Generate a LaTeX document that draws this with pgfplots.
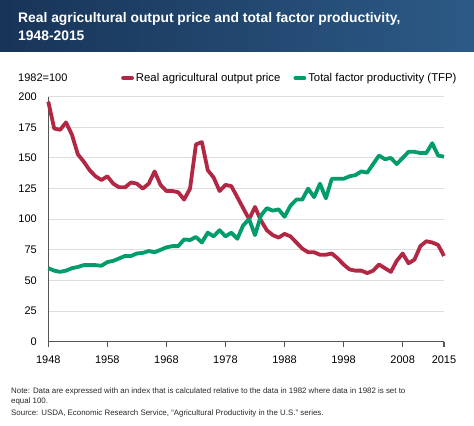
\documentclass[border=0pt]{standalone}
\usepackage{pgfplots}
\pgfplotsset{compat=1.18}
\usepackage{pgfplotstable}
\usepackage{fontspec}
\setmainfont{Liberation Sans}
\definecolor{pricered}{RGB}{178,40,68}
\definecolor{tfpgreen}{RGB}{0,156,108}
\definecolor{bannerL}{RGB}{24,52,88}
\definecolor{bannerR}{RGB}{44,90,134}
\definecolor{gridgray}{RGB}{222,222,222}
\definecolor{axisgray}{RGB}{85,85,85}
\definecolor{notegray}{RGB}{40,40,40}

\pgfplotstableread{
year value
1948 196
1949 174
1950 173
1951 179
1952 169
1953 153
1954 147
1955 140
1956 135
1957 132
1958 135
1959 129
1960 126
1961 126
1962 130
1963 129
1964 125
1965 129
1966 139
1967 128
1968 123
1969 123
1970 122
1971 116
1972 125
1973 161
1974 163
1975 140
1976 134
1977 123
1978 128
1979 127
1980 118
1981 109
1982 100
1983 110
1984 99
1985 91
1986 87
1987 85
1988 88
1989 86
1990 81
1991 76
1992 73
1993 73
1994 71
1995 71
1996 72
1997 68
1998 63
1999 59
2000 58
2001 58
2002 56
2003 58
2004 63
2005 60
2006 57
2007 66
2008 72
2009 64
2010 67
2011 78
2012 82
2013 81
2014 79
2015 70
}\pricetable

\pgfplotstableread{
year value
1948 60
1949 58
1950 57
1951 58
1952 60
1953 61
1954 62.5
1955 62.5
1956 62.5
1957 62
1958 65
1959 66
1960 68
1961 70
1962 70
1963 72
1964 72.5
1965 74
1966 73
1967 75
1968 77
1969 78
1970 78
1971 83.5
1972 83
1973 85.5
1974 81
1975 89
1976 86
1977 91
1978 86
1979 89
1980 84
1981 95
1982 100
1983 87
1984 103
1985 109
1986 107
1987 108
1988 102
1989 111
1990 116
1991 116
1992 125
1993 118
1994 129
1995 117
1996 133
1997 133
1998 133
1999 135
2000 136
2001 139
2002 138
2003 145
2004 152
2005 149
2006 150
2007 145
2008 150
2009 155
2010 155
2011 154
2012 154
2013 162
2014 152
2015 151
}\tfptable

\begin{document}
\begin{tikzpicture}
\path[use as bounding box] (0,0) rectangle (474bp,426bp);
% banner
\shade[left color=bannerL, right color=bannerR] (0,374bp) rectangle (474bp,426bp);
\node[anchor=base west, inner sep=0pt, text=white, font=\fontsize{13.85bp}{16bp}\selectfont\bfseries] at (18bp,403.5bp) {Real agricultural output price and total factor productivity,};
\node[anchor=base west, inner sep=0pt, text=white, font=\fontsize{13.85bp}{16bp}\selectfont\bfseries] at (18bp,385.5bp) {1948-2015};
% unit label
\node[anchor=west, inner sep=0pt, font=\fontsize{11bp}{13bp}\selectfont] at (18bp,348bp) {1982=100};
\begin{axis}[
  at={(48.3bp,84.3bp)}, anchor=south west,
  scale only axis, width=395.7bp, height=245bp,
  xmin=1948, xmax=2015, ymin=0, ymax=200,
  axis x line*=bottom, axis y line*=left,
  axis line style={draw=axisgray, line width=1.3bp, -},
  xtick={1948,1958,1968,1978,1988,1998,2008,2015},
  ytick={0,25,50,75,100,125,150,175,200},
  xticklabel style={/pgf/number format/1000 sep={}},
  /pgf/number format/assume math mode=true,
  tick label style={font=\fontsize{11bp}{13bp}\selectfont, text=black},
  x tick label style={yshift=-6bp},
  y tick label style={xshift=-3bp},
  xtick style={draw=axisgray, line width=1.3bp},
  major tick length=5bp, tick align=outside,
  ytick style={draw=none},
  ymajorgrids, grid style={draw=gridgray, line width=0.9bp},
  clip=false,
  legend columns=2,
  legend style={draw=none, fill=none, at={(0.1837,1.0763)}, anchor=west,
    inner sep=0pt, font=\fontsize{11.35bp}{13bp}\selectfont,
    /tikz/every even column/.append style={column sep=11bp},
    nodes={inner xsep=2bp, inner ysep=0pt}},
  legend image code/.code={\draw[#1, line cap=round] (0bp,0bp) -- (9bp,0bp);},
]
\addplot[pricered, line width=3.8bp, line join=round] table[x=year, y=value] {\pricetable};
\addlegendentry{Real agricultural output price}
\addplot[tfpgreen, line width=3.8bp, line join=round] table[x=year, y=value] {\tfptable};
\addlegendentry{Total factor productivity (TFP)}
\end{axis}
% notes
\node[anchor=base west, inner sep=0pt, text=notegray, font=\fontsize{7.9bp}{10bp}\selectfont] at (11bp,33bp) {Note: Data are expressed with an index that is calculated relative to the data in 1982 where data in 1982 is set to};
\node[anchor=base west, inner sep=0pt, text=notegray, font=\fontsize{7.9bp}{10bp}\selectfont] at (11bp,22.3bp) {equal 100.};
\node[anchor=base west, inner sep=0pt, text=notegray, font=\fontsize{7.9bp}{10bp}\selectfont] at (11bp,11bp) {Source: USDA, Economic Research Service, ``Agricultural Productivity in the U.S.'' series.};
\end{tikzpicture}
\end{document}
